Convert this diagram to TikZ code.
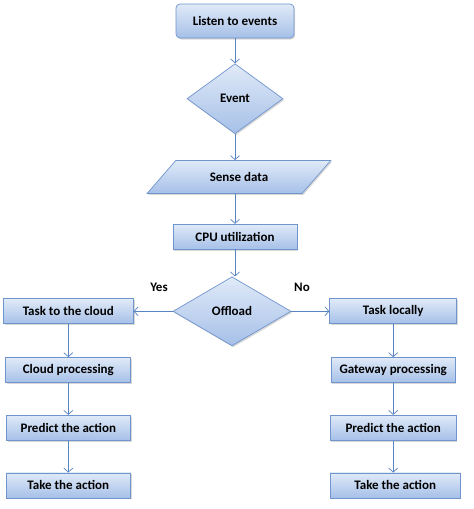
\documentclass[tikz,border=0pt]{standalone}
\usepackage{fontspec}
\setmainfont{Carlito}
\usetikzlibrary{positioning,arrows.meta,shapes.geometric,shadows}
\definecolor{boxtop}{RGB}{224,234,248}
\definecolor{boxbot}{RGB}{166,192,232}
\definecolor{boxline}{RGB}{112,148,204}
\definecolor{flowline}{RGB}{88,132,196}
\tikzset{
  blk/.style={draw=boxline, top color=boxtop, bottom color=boxbot, align=center,
              font=\fontsize{13}{15}\selectfont\bfseries, minimum height=25pt,
              inner sep=2pt, line width=0.7pt,
              drop shadow={shadow xshift=1.2pt, shadow yshift=-1.5pt, opacity=0.3}},
  dec/.style={blk, diamond, inner sep=0pt, minimum width=96pt, minimum height=70pt},
  io/.style={blk, trapezium, trapezium left angle=43, trapezium right angle=137,
             trapezium stretches=true, minimum width=184pt, minimum height=33pt},
  lbl/.style={font=\fontsize{13}{15}\selectfont\bfseries},
  flow/.style={-{Straight Barb[length=4pt, width=9pt]}, draw=flowline, line width=0.7pt},
}
\begin{document}
\begin{tikzpicture}[x=1pt, y=-1pt, node distance=32pt]
  \fill[white] (0,0) rectangle (474,509);
  \useasboundingbox (0,0) rectangle (474,509);
  % main column
  \node[blk, rounded corners=4pt, minimum width=118pt, minimum height=34pt] (listen)
    at (235,21) {Listen to events};
  \node[dec, below=25pt of listen] (event) {Event};
  \node[io, below=26pt of event, xshift=4pt] (sense) {Sense data};
  \node[blk, minimum width=124pt, below=30pt of sense, xshift=-4pt] (cpu) {CPU utilization};
  \node[dec, minimum width=118pt, minimum height=69pt, below=27pt of cpu, xshift=-3pt]
    (offload) {Offload};
  % cloud branch
  \node[blk, minimum width=130pt, left=39pt of offload] (cloud) {Task to the cloud};
  \node[blk, minimum width=125pt, below=33pt of cloud] (cproc) {Cloud processing};
  \node[blk, minimum width=124pt, below=of cproc] (cpred) {Predict the action};
  \node[blk, minimum width=124pt, below=of cpred] (ctake) {Take the action};
  % local branch
  \node[blk, minimum width=127pt, right=38pt of offload] (local) {Task locally};
  \node[blk, minimum width=124pt, below=33pt of local] (gproc) {Gateway processing};
  \node[blk, minimum width=126pt, below=of gproc] (lpred) {Predict the action};
  \node[blk, minimum width=130pt, below=of lpred, xshift=2pt] (ltake) {Take the action};
  \node[lbl] (yes) at (159,287) {Yes};
  \node[lbl] (no) at (302,287) {No};
  \draw[flow] (listen) -- (event);
  \draw[flow] (event) -- (event |- sense.north);
  \draw[flow] (event |- sense.south) -- (cpu);
  \draw[flow] (cpu) -- (cpu |- offload.north);
  \draw[flow] (offload) -- (cloud);
  \draw[flow] (offload) -- (local);
  \draw[flow] (cloud) -- (cproc);
  \draw[flow] (cproc) -- (cpred);
  \draw[flow] (cpred) -- (ctake);
  \draw[flow] (local) -- (gproc);
  \draw[flow] (gproc) -- (lpred);
  \draw[flow] (lpred) -- (lpred |- ltake.north);
\end{tikzpicture}
\end{document}
